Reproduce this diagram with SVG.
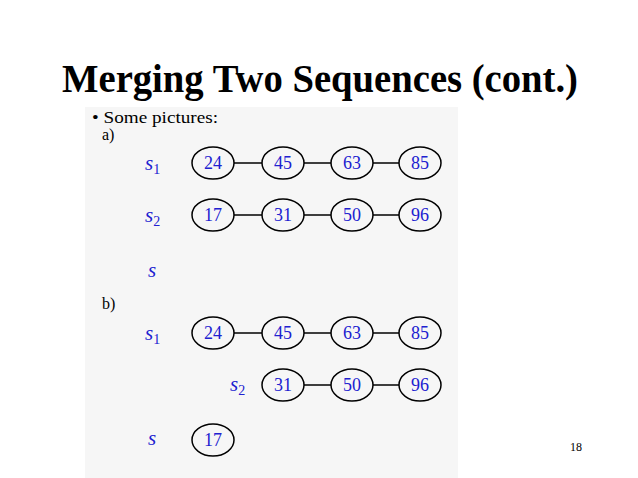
<svg xmlns="http://www.w3.org/2000/svg" width="638" height="478" viewBox="0 0 638 478">
<style>
.t{font-family:"Liberation Serif",serif}
.n ellipse{fill:none;stroke:#000;stroke-width:1.5}
.n text{font-family:"Liberation Serif",serif;font-size:18px;fill:#2020d0;text-anchor:middle}
.lab{font-family:"Liberation Serif",serif;font-style:italic;font-size:21px;fill:#2020d0}
.sub{font-size:14px;font-style:normal}
#conn line{stroke:#000;stroke-width:1.5}
</style>
<rect width="638" height="478" fill="#fff"/>
<rect x="85" y="107" width="373" height="371" fill="#f6f6f6"/>
<text class="t" x="320" y="92" font-size="39" font-weight="bold" text-anchor="middle" textLength="516" lengthAdjust="spacingAndGlyphs">Merging Two Sequences (cont.)</text>
<text class="t" x="92" y="123" font-size="16" textLength="126" lengthAdjust="spacingAndGlyphs">• Some pictures:</text>
<text class="t" x="102" y="140" font-size="16">a)</text>
<text class="t" x="102" y="309" font-size="16">b)</text>
<text class="t" x="570" y="451" font-size="12">18</text>
<text class="lab" x="145" y="170">s<tspan class="sub" dy="4">1</tspan></text>
<text class="lab" x="145" y="222">s<tspan class="sub" dy="4">2</tspan></text>
<text class="lab" x="148" y="277">s</text>
<text class="lab" x="145" y="340">s<tspan class="sub" dy="4">1</tspan></text>
<text class="lab" x="230" y="391">s<tspan class="sub" dy="4">2</tspan></text>
<text class="lab" x="148" y="445">s</text>
<g id="conn">
<line x1="234" y1="163" x2="262" y2="163"/><line x1="304" y1="163" x2="331" y2="163"/><line x1="373" y1="163" x2="399" y2="163"/>
<line x1="234" y1="215" x2="262" y2="215"/><line x1="304" y1="215" x2="331" y2="215"/><line x1="373" y1="215" x2="399" y2="215"/>
<line x1="234" y1="333" x2="262" y2="333"/><line x1="304" y1="333" x2="331" y2="333"/><line x1="373" y1="333" x2="399" y2="333"/>
<line x1="304" y1="385" x2="331" y2="385"/><line x1="373" y1="385" x2="399" y2="385"/>
</g>
<g id="a1" class="n"><ellipse cx="213" cy="163" rx="21" ry="16"/><text x="213" y="169">24</text></g>
<g id="a2" class="n"><ellipse cx="283" cy="163" rx="21" ry="16"/><text x="283" y="169">45</text></g>
<g id="a3" class="n"><ellipse cx="352" cy="163" rx="21" ry="16"/><text x="352" y="169">63</text></g>
<g id="a4" class="n"><ellipse cx="420" cy="163" rx="21" ry="16"/><text x="420" y="169">85</text></g>
<g id="a5" class="n"><ellipse cx="213" cy="215" rx="21" ry="16"/><text x="213" y="221">17</text></g>
<g id="a6" class="n"><ellipse cx="283" cy="215" rx="21" ry="16"/><text x="283" y="221">31</text></g>
<g id="a7" class="n"><ellipse cx="352" cy="215" rx="21" ry="16"/><text x="352" y="221">50</text></g>
<g id="a8" class="n"><ellipse cx="420" cy="215" rx="21" ry="16"/><text x="420" y="221">96</text></g>
<g id="b1" class="n"><ellipse cx="213" cy="333" rx="21" ry="16"/><text x="213" y="339">24</text></g>
<g id="b2" class="n"><ellipse cx="283" cy="333" rx="21" ry="16"/><text x="283" y="339">45</text></g>
<g id="b3" class="n"><ellipse cx="352" cy="333" rx="21" ry="16"/><text x="352" y="339">63</text></g>
<g id="b4" class="n"><ellipse cx="420" cy="333" rx="21" ry="16"/><text x="420" y="339">85</text></g>
<g id="b6" class="n"><ellipse cx="283" cy="385" rx="21" ry="16"/><text x="283" y="391">31</text></g>
<g id="b7" class="n"><ellipse cx="352" cy="385" rx="21" ry="16"/><text x="352" y="391">50</text></g>
<g id="b8" class="n"><ellipse cx="420" cy="385" rx="21" ry="16"/><text x="420" y="391">96</text></g>
<g id="b5" class="n"><ellipse cx="213" cy="440" rx="21" ry="16"/><text x="213" y="446">17</text></g>
</svg>
